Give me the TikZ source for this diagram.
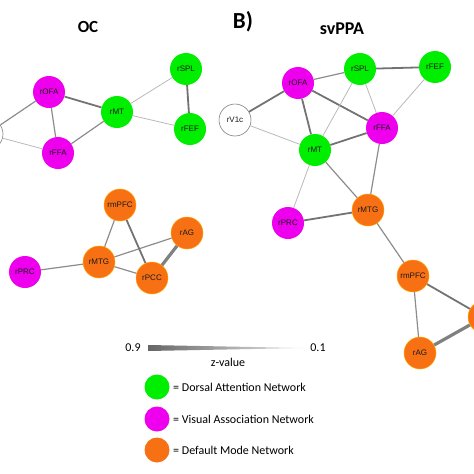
\documentclass[tikz,border=0pt]{standalone}
\usepackage{fontspec}
\setmainfont{Carlito}
\newfontfamily\roifont{Liberation Sans}
\definecolor{dancol}{RGB}{0,238,0}
\definecolor{vancol}{RGB}{238,0,238}
\definecolor{dmncol}{RGB}{247,112,20}
\tikzset{
	roi/.style={circle,minimum size=32pt,inner sep=0pt,text=black!90,font=\roifont\fontsize{8}{9}\selectfont},
	dannode/.style={roi,fill=dancol},
	vannode/.style={roi,fill=vancol},
	dmnnode/.style={roi,fill=dmncol,draw=orange!70!yellow,line width=0.5pt},
	seednode/.style={roi,fill=white,draw=gray,line width=0.6pt},
	keynode/.style={circle,minimum size=25pt,inner sep=0pt},
	zlow/.style={draw=gray!55,line width=0.8pt},
	zmid/.style={draw=gray!90,line width=1.2pt},
	zhigh/.style={draw=black!55,line width=1.8pt},
	ztop/.style={draw=black!50,line width=3.2pt},
}
\begin{document}
\begin{tikzpicture}[x=1pt,y=-1pt]
	\useasboundingbox (0,0) rectangle (474,474);
	\clip (0,0) rectangle (474,474);
	% titles
	\node[font=\bfseries\fontsize{17}{19}\selectfont] (ttlOC) at (88,27) {OC};
	\node[font=\bfseries\fontsize{23}{25}\selectfont] (ttlB) at (243,22) {B)};
	\node[font=\bfseries\fontsize{18}{20}\selectfont] (ttlSV) at (342,29) {svPPA};
	% OC, upper network
	\node[seednode] (ocV1c) at (-13,134) {rV1c};
	\node[vannode] (ocOFA) at (49,92) {rOFA};
	\node[vannode] (ocFFA) at (58,153) {rFFA};
	\node[dannode] (ocMT) at (117,112) {rMT};
	\node[dannode] (ocSPL) at (186,69) {rSPL};
	\node[dannode] (ocFEF) at (190,129) {rFEF};
	\draw[zmid] (ocV1c)--(ocOFA);
	\draw[zlow] (ocV1c)--(ocFFA);
	\draw[zmid] (ocOFA)--(ocFFA);
	\draw[zhigh] (ocOFA)--(ocMT);
	\draw[zmid] (ocFFA)--(ocMT);
	\draw[zlow] (ocMT)--(ocSPL) (ocMT)--(ocFEF);
	\draw[zhigh] (ocSPL)--(ocFEF);
	% OC, lower network
	\node[dmnnode] (ocmPFC) at (120,205) {rmPFC};
	\node[dmnnode] (ocAG) at (187,233) {rAG};
	\node[dmnnode] (ocMTG) at (99,262) {rMTG};
	\node[dmnnode] (ocPCC) at (152,278) {rPCC};
	\node[vannode] (ocPRC) at (25,272) {rPRC};
	\draw[zmid] (ocmPFC)--(ocMTG) (ocMTG)--(ocAG) (ocMTG)--(ocPCC) (ocPRC)--(ocMTG);
	\draw[zhigh] (ocmPFC)--(ocPCC);
	\draw[ztop] (ocAG)--(ocPCC);
	% svPPA
	\node[seednode] (svV1c) at (235,120) {rV1c};
	\node[vannode] (svOFA) at (298,83) {rOFA};
	\node[dannode] (svSPL) at (360,69) {rSPL};
	\node[dannode] (svFEF) at (435,67) {rFEF};
	\node[vannode] (svFFA) at (382,128) {rFFA};
	\node[dannode] (svMT) at (315,150) {rMT};
	\node[dmnnode] (svMTG) at (368,210) {rMTG};
	\node[vannode] (svPRC) at (288,223) {rPRC};
	\node[dmnnode] (svmPFC) at (413,276) {rmPFC};
	\node[dmnnode] (svAG) at (420,353) {rAG};
	\node[dmnnode] (svPCC) at (484,317) {rPCC};
	\draw[zhigh] (svV1c)--(svOFA);
	\draw[zlow] (svV1c)--(svMT);
	\draw[zmid] (svOFA)--(svSPL);
	\draw[zhigh] (svOFA)--(svMT) (svOFA)--(svFFA) (svSPL)--(svFEF) (svMT)--(svFFA);
	\draw[zlow] (svSPL)--(svMT) (svSPL)--(svFFA) (svFEF)--(svFFA) (svMT)--(svPRC);
	\draw[zmid] (svMT)--(svMTG) (svFFA)--(svMTG) (svMTG)--(svmPFC) (svmPFC)--(svAG);
	\draw[zhigh] (svPRC)--(svMTG) (svmPFC)--(svPCC);
	\draw[ztop] (svAG)--(svPCC);
	% key
	\node[font=\fontsize{12}{14}\selectfont] (zhi) at (133,348) {0.9};
	\node[font=\fontsize{12}{14}\selectfont] (zlo) at (318,348) {0.1};
	\shade[left color=black!60,right color=gray!15] (148,345) -- (305,348) -- (148,351) -- cycle;
	\node[font=\fontsize{12}{14}\selectfont] (zlabel) at (228,362) {z-value};
	\node[keynode,fill=dancol] (keyDAN) at (157,387) {};
	\node[keynode,fill=vancol] (keyVAN) at (157,419) {};
	\node[keynode,fill=dmncol] (keyDMN) at (157,450) {};
	\node[anchor=west,font=\fontsize{12}{14}\selectfont,inner sep=0pt] (txtDAN) at (173,387) {= Dorsal Attention Network};
	\node[anchor=west,font=\fontsize{12}{14}\selectfont,inner sep=0pt] (txtVAN) at (173,419) {= Visual Association Network};
	\node[anchor=west,font=\fontsize{12}{14}\selectfont,inner sep=0pt] (txtDMN) at (173,450) {= Default Mode Network};
\end{tikzpicture}
\end{document}
